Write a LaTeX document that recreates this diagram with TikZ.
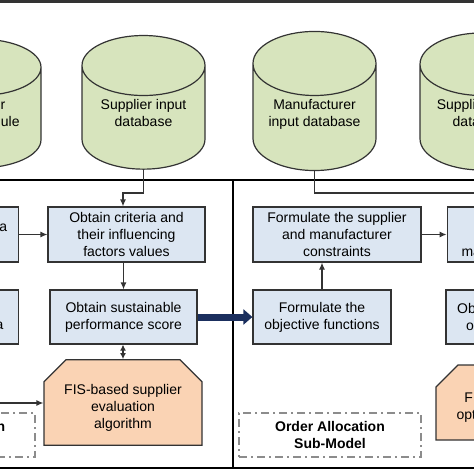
\documentclass[tikz,border=0pt]{standalone}
\usepackage{fontspec}
\setmainfont{Liberation Sans}
\usetikzlibrary{arrows,arrows.meta,positioning,calc,shapes.geometric,shapes.misc}

\definecolor{dbgreen}{HTML}{D7E4BD}
\definecolor{boxblue}{HTML}{DCE6F2}
\definecolor{fisorange}{HTML}{FAD3B4}
\definecolor{darknavy}{HTML}{1B2F5E}
\definecolor{edge}{HTML}{333333}

\tikzset{
  db/.style={cylinder, shape border rotate=90, aspect=0.65, draw=edge, line width=1.2pt,
    fill=dbgreen, minimum width=123pt, minimum height=117pt, align=center,
    execute at end node={\rule[-19pt]{0pt}{19pt}}},
  proc/.style={rectangle, draw=edge, line width=1.2pt, fill=boxblue, minimum height=55pt,
    align=center, inner sep=2pt},
  algo/.style={chamfered rectangle, chamfered rectangle corners={north west,north east},
    chamfered rectangle xsep=11pt, chamfered rectangle ysep=11pt, draw=edge, line width=1.2pt,
    fill=fisorange, minimum height=75pt, align=center},
  submodel/.style={rectangle, draw=gray!90, line width=2pt, dash pattern=on 8pt off 4pt on 2pt off 4pt,
    minimum width=182pt, minimum height=44pt, align=center, font=\bfseries\fontsize{14}{17}\selectfont},
  flow/.style={-{Latex[length=7pt,width=6pt]}, draw=edge, line width=1.2pt},
  bigflow/.style={-{Triangle[length=9pt,width=15pt]}, draw=darknavy, line width=7pt},
}

\begin{document}
\begin{tikzpicture}[x=1pt, y=-1pt, every node/.style={font=\fontsize{14}{17}\selectfont}]
  \useasboundingbox (0,0) rectangle (474,474);
  \clip (0,0) rectangle (474,474);
  % frames of the sub-models
  \draw[line width=3pt, edge] (-5,1.5) -- (480,1.5);
  \draw[line width=1.3pt] (-160,180) rectangle (233,468);
  \draw[line width=1.3pt] (233,180) rectangle (640,468);

  % input databases
  \node (cyl0) at (-20.5,122.5) [db] {Supplier\\input module};
  \node (cyl1) at (143.5,122.5) [db] {Supplier input\\database};
  \node (cyl2) at (314.5,122.5) [db] {Manufacturer\\input database};
  \node (cyl3) at (481.5,122.5) [db] {Supplier score\\database};

  % supplier selection sub-model
  \node (crit) at (126.5,234.5) [proc, minimum width=157pt] {Obtain criteria and\\their influencing\\factors values};
  \node (cdef) [proc, minimum width=157pt, left=28pt of crit] {Determine the criteria\\and sub-criteria};
  \node (perf) at (123.5,317) [proc, minimum width=147pt, minimum height=54pt] {Obtain sustainable\\performance score};
  \node (cwgt) [proc, minimum width=157pt, minimum height=54pt, left=30pt of perf] {Obtain weights of\\sustainability criteria};
  \node (fis) at (123,402.5) [algo, minimum width=158pt] {\rule{0pt}{20pt}FIS-based supplier\\evaluation\\algorithm};
  \node (ssm) at (-56,435) [submodel] {Supplier Selection\\Sub-Model};
  \coordinate (fisin) at (-20,403);

  % order allocation sub-model
  \node (cons) at (337,234.5) [proc, minimum width=168pt] {Formulate the supplier\\and manufacturer\\constraints};
  \node (model) [proc, minimum width=154pt, right=25pt of cons] {Develop the\\order allocation\\mathematical model};
  \node (obj) at (322,317) [proc, minimum width=138pt, minimum height=54pt] {Formulate the\\objective functions};
  \node (opt) at (514,317) [proc, minimum width=136pt, minimum height=54pt] {Obtain the optimal\\order allocation};
  \node (fis2) at (515,402.5) [algo, minimum width=158pt] {\rule{0pt}{20pt}FIS-based order\\optimization model};
  \node (oasm) at (330,435) [submodel] {Order Allocation\\Sub-Model};

  \coordinate (j1) at (123,193);
  \coordinate (j2) at (490,193);
  \draw[flow] (cyl1.south) |- (j1) -- (crit.north -| j1);
  \draw[draw=edge, line width=1.2pt] (cyl2.south) |- (j2);
  \draw[flow] (cdef) -- (crit);
  \draw[flow] (perf.north |- crit.south) -- (perf.north);
  \draw[draw=edge, line width=1.2pt, {Latex[length=6pt,width=6pt]}-{Latex[length=6pt,width=6pt]}] (fis.north |- perf.south) -- (fis.north);
  \draw[flow] (fisin) -- (fis.west |- fisin);
  \draw[bigflow] (perf) -- (obj);
  \draw[flow] (obj) -- (obj |- cons.south);
  \draw[flow] (cons) -- (model);
\end{tikzpicture}
\end{document}
